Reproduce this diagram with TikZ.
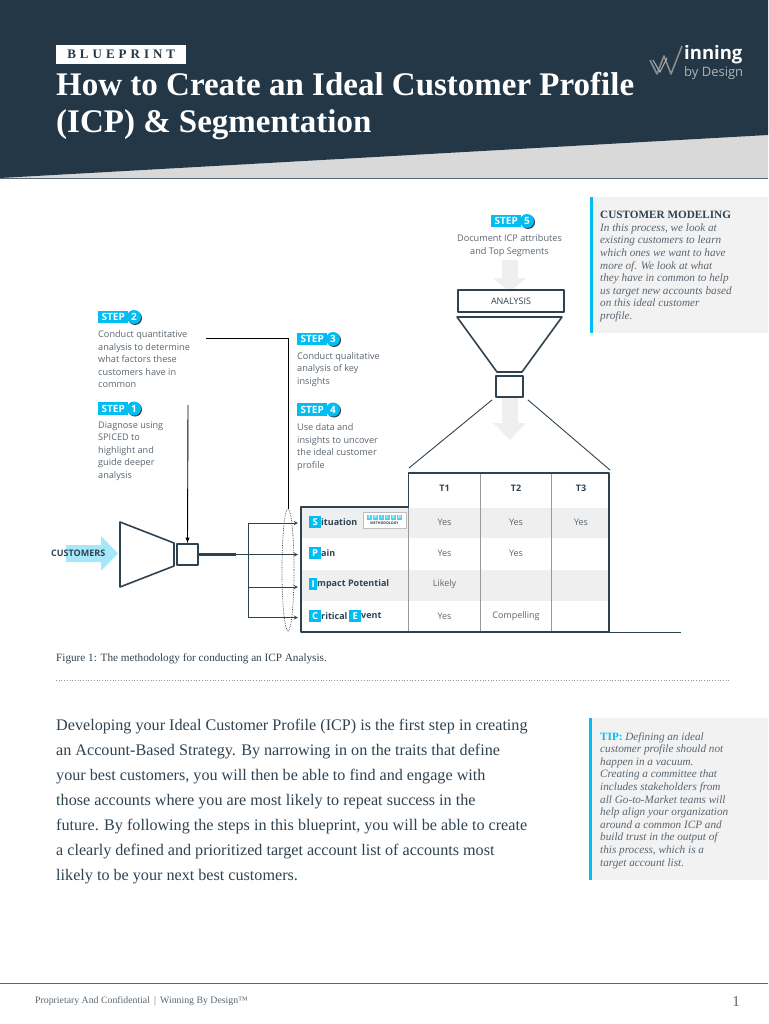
\documentclass[tikz,border=0pt]{standalone}
\usepackage{fontspec}
\setmainfont{Liberation Serif}
\setsansfont{Open Sans}
\usepackage{tikz}
\usetikzlibrary{arrows}
\definecolor{headdark}{HTML}{233746}
\definecolor{inkdark}{HTML}{2F4250}
\definecolor{inkgray}{HTML}{5A6670}
\definecolor{wbdcyan}{HTML}{00BDF2}
\definecolor{bandgray}{HTML}{EFEFEF}
\definecolor{sidegray}{HTML}{F2F2F2}
\tikzset{
  stepbox/.style={fill=wbdcyan,text=white,font=\sffamily\bfseries\fontsize{10}{10}\selectfont,anchor=west,inner sep=0,minimum height=12.5,minimum width=30,align=left},
  stepnum/.style={circle,fill=wbdcyan,text=white,font=\sffamily\bfseries\fontsize{10}{10}\selectfont,inner sep=0,minimum size=14},
  steptext/.style={anchor=north west,inner sep=0,align=left,text=inkgray,font=\sffamily\fontsize{9.15}{12.45}\selectfont},
  sidetext/.style={anchor=north west,inner sep=0,align=left,text=inkgray,font=\itshape\fontsize{11.2}{12.6}\selectfont},
  darkline/.style={draw=inkdark,line width=1.6,line join=round},
  thinline/.style={draw=inkdark,line width=0.9},
  cell/.style={text=inkgray,font=\sffamily\fontsize{9}{9}\selectfont,inner sep=0},
  head/.style={text=inkdark,font=\sffamily\bfseries\fontsize{9}{9}\selectfont,inner sep=0},
  rowlab/.style={anchor=west,text=inkdark,font=\sffamily\bfseries\fontsize{9}{9}\selectfont,inner sep=0},
  letterbox/.style={anchor=west,fill=wbdcyan,text=white,font=\sffamily\bfseries\fontsize{9.5}{9.5}\selectfont,inner sep=0,minimum height=12,minimum width=12},
}
\newcommand{\stepbadge}[4]{%
  \fill[inkdark] (#2+37,#3+1) circle (7);
  \node[stepbox] (#1) at (#2,#3) {STEP};
  \node[stepnum] (#1n) at (#2+36,#3) {#4};
}
\begin{document}
\begin{tikzpicture}[x=1pt,y=-1pt]
  \useasboundingbox (0,0) rectangle (768,1024);
  % header
  \fill[fill=black!15] (0,130) rectangle (768,178);
  \fill[fill=headdark] (0,0) -- (768,0) -- (768,135) -- (0,178) -- cycle;
  \draw[draw=inkgray,line width=0.8] (0,178.5) -- (768,178.5);
  \node[fill=white,text=headdark,anchor=west,inner sep=0,minimum width=130,minimum height=18.5,font=\bfseries\fontsize{13}{13}\selectfont] (blueprint) at (56,54.5) {B\hspace{4pt}L\hspace{4pt}U\hspace{4pt}E\hspace{4pt}P\hspace{4pt}R\hspace{4pt}I\hspace{4pt}N\hspace{4pt}T};
  \node[anchor=north west,inner sep=0,align=left,text=white,font=\bfseries\fontsize{33}{37}\selectfont] (title) at (56,72) {How to Create an Ideal Customer Profile\\(ICP) \& Segmentation};
  % logo
  \draw[black!45,line width=1.6,line join=round] (650,60) -- (657,74) -- (664,56) -- (671,74) -- (682,46);
  \draw[black!30,line width=1] (653,60) -- (660,72) -- (667,58);
  \node[anchor=west,inner sep=0,text=white,font=\sffamily\bfseries\fontsize{18.5}{18.5}\selectfont] (inning) at (684,55) {inning};
  \node[anchor=west,inner sep=0,text=black!30,font=\sffamily\fontsize{13}{13}\selectfont] (bydesign) at (684,73) {by Design};

  % side boxes
  \fill[fill=sidegray] (590,197) rectangle (768,333);
  \fill[fill=wbdcyan] (590,197) rectangle (593,333);
  \node[sidetext] (modeling) at (600,211) {\textnormal{\textbf{\textcolor{inkdark}{CUSTOMER MODELING}}}\\In this process, we look at\\existing customers to learn\\which ones we want to have\\more of. We look at what\\they have in common to help\\us target new accounts based\\on this ideal customer\\profile.};
  \fill[fill=sidegray] (589,718) rectangle (768,880);
  \fill[fill=wbdcyan] (589,718) rectangle (592,880);
  \node[sidetext] (tip) at (600,732) {\textnormal{\textbf{\textcolor{wbdcyan}{TIP:}}} Defining an ideal\\customer profile should not\\happen in a vacuum.\\Creating a committee that\\includes stakeholders from\\all Go-to-Market teams will\\help align your organization\\around a common ICP and\\build trust in the output of\\this process, which is a\\target account list.};

  % steps
  \stepbadge{stepb}{98}{317}{2}
  \node[steptext] (stepbtext) at (98,330.5) {Conduct quantitative\\analysis to determine\\what factors these\\customers have in\\common};
  \stepbadge{stepa}{98}{408.5}{1}
  \node[steptext] (stepatext) at (98,421.5) {Diagnose using\\SPICED to\\highlight and\\guide deeper\\analysis};
  \stepbadge{stepc}{297}{339}{3}
  \node[steptext] (stepctext) at (297,352) {Conduct qualitative\\analysis of key\\insights};
  \stepbadge{stepd}{297}{409.5}{4}
  \node[steptext] (stepdtext) at (297,423.5) {Use data and\\insights to uncover\\the ideal customer\\profile};
  \stepbadge{stepe}{491}{221}{5}
  \node[steptext,anchor=north,align=center] (stepetext) at (509.5,234.5) {Document ICP attributes\\and Top Segments};

  % big pale arrows
  \fill[fill=bandgray] (502,260) -- (518,260) -- (518,278) -- (526,278) -- (510,292) -- (493,278) -- (502,278) -- cycle;
  \fill[fill=bandgray] (502,397) -- (518,397) -- (518,423) -- (526,423) -- (510,440) -- (493,423) -- (502,423) -- cycle;
  \fill[fill=wbdcyan!35] (66,545) -- (101,545) -- (101,536) -- (118,553.5) -- (101,571) -- (101,562) -- (66,562) -- cycle;
  \node[anchor=west,inner sep=0,text=inkdark,font=\sffamily\bfseries\fontsize{9}{9}\selectfont] (customers) at (51,553) {CUSTOMERS};

  % funnels
  \draw[darkline] (120,522) -- (174,543) -- (174,566) -- (120,587) -- cycle;
  \node[darkline,minimum width=21,minimum height=21,inner sep=0] (gate) at (187.5,554.5) {};
  \node[darkline,minimum width=106,minimum height=22,inner sep=0,text=inkdark,font=\sffamily\fontsize{9}{9}\selectfont] (analysis) at (511,301) {ANALYSIS};
  \draw[darkline] (457,317) -- (562,317) -- (522,372) -- (497,372) -- cycle;
  \node[darkline,minimum width=27,minimum height=21,inner sep=0] (spout) at (509.5,386.5) {};
  \coordinate (tablel) at (409,468);
  \coordinate (tabler) at (610,470);
  \draw[thinline] (spout.south west)+(-3,2) -- (tablel);
  \draw[thinline] (spout.south east)+(4,2) -- (tabler);

  % table bands
  \fill[fill=bandgray] (302,508) rectangle (608,538);
  \fill[fill=bandgray] (302,570) rectangle (608,601);
  \foreach \colx in {408.5,480.5,551.5}
    \draw[draw=black!40,line width=0.8] (\colx,473) -- (\colx,632);
  \draw[darkline] (408.5,473) -- (609,473) -- (609,632) -- (301,632) -- (301,507) -- (408.5,507) -- cycle;
  \draw[thinline] (609,632) -- (681,632);

  \node[head] (tone) at (444.5,488) {T1};
  \node[head] (ttwo) at (516,488) {T2};
  \node[head] (tthree) at (581,488) {T3};
  \foreach \cname/\cx/\cy/\ctext in {a/444.5/522/Yes,b/516/522/Yes,c/581/522/Yes,d/444.5/553/Yes,e/516/553/Yes,f/444.5/584/Likely,g/444.5/616/Yes,h/516/616/Compelling}
    \node[cell] (cell\cname) at (\cx,\cy) {\ctext};

  \node[letterbox] (ls) at (309,522) {S};
  \node[rowlab] (rs) at (321,522) {ituation};
  \node[letterbox] (lp) at (309,553) {P};
  \node[rowlab] (rp) at (321,553) {ain};
  \node[letterbox,minimum width=8] (li) at (309,584) {I};
  \node[rowlab] (ri) at (317,584) {mpact Potential};
  \node[letterbox] (lc) at (309,616) {C};
  \node[rowlab] (rc) at (321,616) {ritical};
  \node[letterbox] (le) at (349,616) {E};
  \node[rowlab] (re) at (361,616) {vent};

  % methodology badge
  \node[draw=black!25,fill=white,line width=0.7,minimum width=43,minimum height=16,inner sep=0] (spiced) at (384.5,520) {};
  \foreach \lx/\lt in {0/S,1/P,2/I,3/C,4/E,5/D}
    \node[fill=wbdcyan!70,text=white,minimum size=5,inner sep=0,font=\sffamily\bfseries\fontsize{4}{4}\selectfont] (spiced\lt) at (369.5+\lx*6,517.5) {\lt};
  \node[inner sep=0,text=inkdark,font=\sffamily\bfseries\fontsize{3.6}{3.6}\selectfont] (methodology) at (384.5,523.5) {METHODOLOGY};

  % connectors
  \coordinate (stepbend) at (206,338);
  \coordinate (ovaltop) at (288,509);
  \coordinate (stepatip) at (188,405);
  \draw[draw=black,line width=0.9] (stepbend) -| (ovaltop);
  \draw[draw=black,line width=0.9,-latex] (stepatip) -- (gate.north);
  \draw[draw=inkdark,line width=3] (gate.east) -- (236,554.5);
  \coordinate (bus) at (248,554.5);
  \draw[thinline] (gate.east) -- (bus);
  \draw[thinline] (248,523) -- (248,617.5);
  \foreach \ay in {523,554.5,587,617.5}
    \draw[thinline,-stealth] (248,\ay) -- (298,\ay);
  \draw[draw=inkdark,densely dotted,line width=0.7] (288,570) ellipse (6 and 61);

  % caption and text
  \node[anchor=west,inner sep=0,text=inkdark,font=\fontsize{11.2}{11.2}\selectfont] (caption) at (56,658.5) {Figure 1: The methodology for conducting an ICP Analysis.};
  \coordinate (rulel) at (56,680);
  \coordinate (ruler) at (730,680);
  \draw[draw=black!40,dotted,line width=0.7] (rulel) -- (ruler);
  \node[anchor=north west,inner sep=0,align=left,text=inkdark,font=\fontsize{16.15}{25}\selectfont] (body) at (56,719) {Developing your Ideal Customer Profile (ICP) is the first step in creating\\an Account-Based Strategy. By narrowing in on the traits that define\\your best customers, you will then be able to find and engage with\\those accounts where you are most likely to repeat success in the\\future. By following the steps in this blueprint, you will be able to create\\a clearly defined and prioritized target account list of accounts most\\likely to be your next best customers.};

  % footer
  \coordinate (footl) at (0,983);
  \coordinate (footr) at (768,983);
  \draw[draw=inkgray,line width=1] (footl) -- (footr);
  \node[anchor=west,inner sep=0,text=inkgray,font=\fontsize{9.8}{9.8}\selectfont] (footer) at (35,1001.5) {Proprietary And Confidential \,|\, Winning By Design™};
  \node[inner sep=0,text=inkgray,font=\fontsize{15}{15}\selectfont] (pagenum) at (736,1002) {1};
\end{tikzpicture}
\end{document}
